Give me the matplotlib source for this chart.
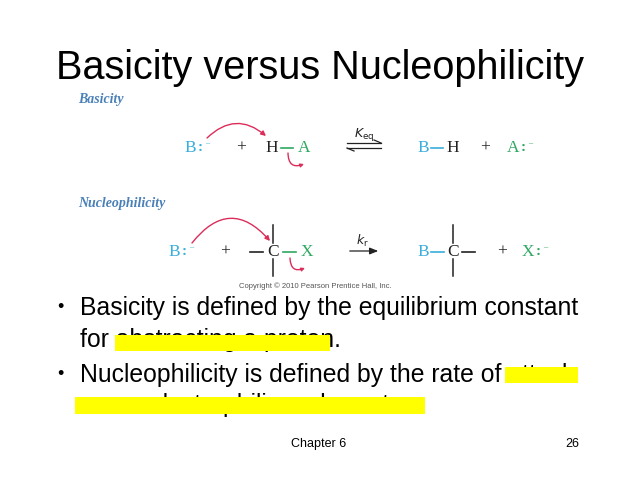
import matplotlib.pyplot as plt
from matplotlib.patches import FancyArrowPatch, Rectangle

# slide content
title = "Basicity versus Nucleophilicity"
bullet_lines = [
    ["Basicity is defined by the equilibrium constant",
     "for abstracting a proton."],
    ["Nucleophilicity is defined by the rate of attack",
     "on an electrophilic carbon atom"],
]
# yellow highlight boxes (x0, y0, x1, y1) in slide pixels
highlights = [(115, 335, 330, 351), (505, 367, 578, 383), (75, 397, 425, 414)]
footer_center = "Chapter 6"
footer_page = "26"
copyright_txt = "Copyright \u00a9 2010 Pearson Prentice Hall, Inc."

CYAN = "#3aaedc"
GREEN = "#2ea862"
RED = "#dc2d5a"
LABEL = "#4a80b8"
INK = "#222222"
SANS = "Liberation Sans"
SERIF = "Liberation Serif"

fig = plt.figure(figsize=(6.38, 4.79), dpi=100)
ax = fig.add_axes([0, 0, 1, 1])
ax.set_xlim(0, 638)
ax.set_ylim(479, 0)
ax.axis("off")

# title
ax.text(320, 79, title, fontsize=28.5, family=SANS, ha="center", va="baseline")


def chem(x, y, s, color=INK, size=12.5, **kw):
    ax.text(x, y, s, fontsize=size, family=SERIF, color=color,
            ha="center", va="baseline", **kw)


def bond(x0, x1, y, color):
    ax.plot([x0, x1], [y, y], color=color, lw=1.2)


def vbond(x, y0, y1):
    ax.plot([x, x], [y0, y1], color=INK, lw=1.1)


def curly(p0, p1, rad, size=7):
    ax.add_patch(FancyArrowPatch(p0, p1, connectionstyle=f"arc3,rad={rad}",
                                 arrowstyle="-|>", mutation_scale=size,
                                 color=RED, lw=1.0, shrinkA=0, shrinkB=0))


def anion(x, y, letter, color):
    chem(x, y, letter, color)
    chem(x + 10, y - 1, ":", color, size=11, weight="bold")
    chem(x + 17, y - 7, "\u2013", color, size=6)


def half_arrow(x0, x1, y, up):
    # straight arrow with a one-sided head at x1
    d = 1 if x1 > x0 else -1
    ax.plot([x0, x1], [y, y], color=INK, lw=0.9)
    ax.plot([x1, x1 - d * 7], [y, y + (-3 if up else 3)], color=INK, lw=0.9)


# Basicity reaction
ax.text(78, 103, "Basicity", fontsize=10, family=SERIF, style="italic",
        weight="bold", color=LABEL, ha="left", va="baseline")
yb = 152
anion(190, yb, "B", CYAN)
chem(241, yb, "+")
chem(272, yb, "H")
bond(281, 293, yb - 4.5, GREEN)
chem(304, yb, "A", GREEN)
curly((207, 138), (266, 136), -0.45)
curly((288, 153), (304, 164), 0.7, size=5)
half_arrow(347, 381, 143, up=True)
half_arrow(381, 347, 148, up=False)
ax.text(364, 137, "$K_{\\mathrm{eq}}$", fontsize=9, family=SERIF,
        ha="center", va="baseline", color=INK)
chem(423, yb, "B", CYAN)
bond(431, 443, yb - 4.5, CYAN)
chem(453, yb, "H")
chem(485, yb, "+")
anion(513, yb, "A", GREEN)

# Nucleophilicity reaction
ax.text(78, 207, "Nucleophilicity", fontsize=10, family=SERIF, style="italic",
        weight="bold", color=LABEL, ha="left", va="baseline")
yn = 256
anion(174, yn, "B", CYAN)
chem(225, yn, "+")
bond(250, 263, yn - 4.5, INK)
chem(273, yn, "C")
vbond(273, 225, 243)
vbond(273, 259, 276)
bond(283, 296, yn - 4.5, GREEN)
chem(307, yn, "X", GREEN)
curly((192, 243), (270, 241), -0.6)
curly((290, 258), (305, 268), 0.7, size=5)
ax.annotate("", xy=(381, 251), xytext=(347, 251),
            arrowprops=dict(arrowstyle="-|>,head_length=0.5,head_width=0.2",
                            color=INK, lw=0.9))
ax.text(362, 245, "$k_{\\mathrm{r}}$", fontsize=9, family=SERIF,
        ha="center", va="baseline", color=INK)
chem(423, yn, "B", CYAN)
bond(431, 444, yn - 4.5, CYAN)
chem(453, yn, "C")
vbond(453, 225, 243)
vbond(453, 259, 276)
bond(462, 475, yn - 4.5, INK)
chem(502, yn, "+")
anion(528, yn, "X", GREEN)
ax.text(315, 288, copyright_txt, fontsize=5.5, family=SANS, color="#555555",
        ha="center", va="baseline")

# bullets
baselines = [[315, 347], [382, 412]]
for lines, ys in zip(bullet_lines, baselines):
    ax.text(57, ys[0] - 3, "\u2022", fontsize=13, family=SANS, ha="left",
            va="baseline")
    for s, y in zip(lines, ys):
        ax.text(80, y, s, fontsize=17.8, family=SANS, ha="left",
                va="baseline")

for x0, y0, x1, y1 in highlights:
    ax.add_patch(Rectangle((x0, y0), x1 - x0, y1 - y0, color="#ffff00",
                           zorder=5, lw=0))

# footer
ax.text(319, 447, footer_center, fontsize=9, family=SANS, ha="center",
        va="baseline")
ax.text(572, 447, footer_page, fontsize=9, family=SANS, ha="center",
        va="baseline")

fig.savefig("out.png", dpi=100)
